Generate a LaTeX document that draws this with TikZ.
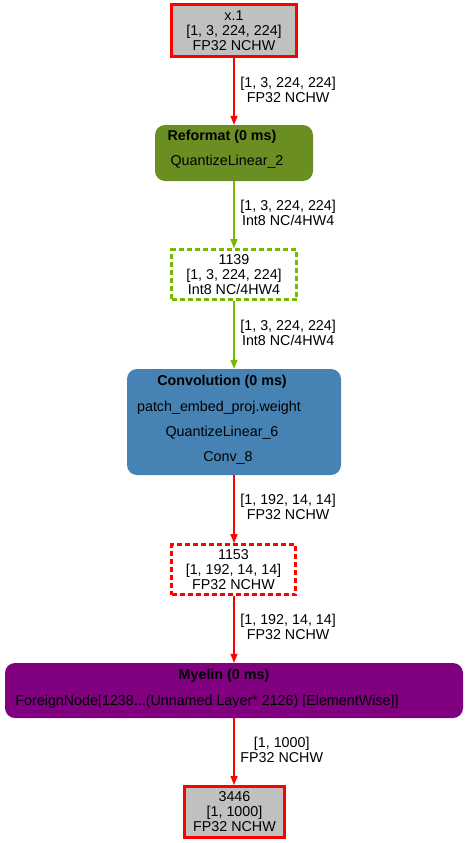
\documentclass[tikz,border=0pt]{standalone}
\usepackage{fontspec}
\setmainfont{Liberation Sans}
\usetikzlibrary{arrows.meta,positioning}
\definecolor{tensorgray}{HTML}{C0C0C0}
\definecolor{reformatgreen}{HTML}{6B8E23}
\definecolor{convblue}{HTML}{4682B4}
\definecolor{myelinpurple}{HTML}{800080}
\definecolor{intgreen}{HTML}{76B900}
\tikzset{
  iotensor/.style={draw=red, line width=3pt, fill=tensorgray, align=center, inner sep=0pt},
  midtensor/.style={line width=2.6pt, dash pattern=on 5pt off 3pt, fill=white, align=center, inner sep=0pt},
  layerbox/.style={rounded corners=10pt, inner sep=0pt},
  fpedge/.style={draw=red, line width=1.2pt, -{Triangle[length=9pt,width=7pt]}},
  intedge/.style={draw=intgreen, line width=1.2pt, -{Triangle[length=9pt,width=7pt]}},
  shapelbl/.style={midway, anchor=west, xshift=2.5pt, yshift=2pt, align=center}
}
\begin{document}
\begin{tikzpicture}[x=1pt, y=-1pt, font=\fontsize{14.3}{15}\selectfont]
  \useasboundingbox (0,0) rectangle (467,843);
  % tensors
  \node[iotensor, minimum width=125pt, minimum height=52pt] (x1) at (234,30.5) {x.1\\{}[1, 3, 224, 224]\\FP32 NCHW};
  \node[midtensor, draw=intgreen, minimum width=125pt, minimum height=50pt] (t1139) at (234,274.5) {1139\\{}[1, 3, 224, 224]\\Int8 NC/4HW4};
  \node[midtensor, draw=red, minimum width=124pt, minimum height=50pt] (t1153) at (233.5,569.5) {1153\\{}[1, 192, 14, 14]\\FP32 NCHW};
  \node[iotensor, minimum width=100pt, minimum height=51pt] (t3446) at (234.5,812) {3446\\{}[1, 1000]\\FP32 NCHW};
  % layers
  \node[layerbox, fill=reformatgreen, minimum width=158pt, minimum height=56pt] (reformat) at (234,153) {};
  \node[font=\fontsize{14.3}{15}\bfseries] at (222,137) {Reformat (0 ms)};
  \node at (227,162) {QuantizeLinear\_2};
  \node[layerbox, fill=convblue, minimum width=214pt, minimum height=106pt] (conv) at (234,422) {};
  \node[font=\fontsize{14.3}{15}\bfseries] at (222,382) {Convolution (0 ms)};
  \node at (219,408) {patch\_embed\_proj.weight};
  \node at (222,433) {QuantizeLinear\_6};
  \node at (228,458) {Conv\_8};
  \node[layerbox, fill=myelinpurple, minimum width=458pt, minimum height=55pt] (myelin) at (234,690.5) {};
  \node[font=\fontsize{14.3}{15}\bfseries] at (224,676) {Myelin (0 ms)};
  \node at (207,702) {ForeignNode[1238...(Unnamed Layer* 2126) [ElementWise]]};
  % edges
  \draw[fpedge] (x1.south -| reformat.north) -- node[shapelbl] {[1, 3, 224, 224]\\FP32 NCHW} (reformat.north);
  \draw[intedge] (reformat.south) -- node[shapelbl] {[1, 3, 224, 224]\\Int8 NC/4HW4} (t1139.north -| reformat.south);
  \draw[intedge] (t1139.south -| conv.north) -- node[shapelbl] {[1, 3, 224, 224]\\Int8 NC/4HW4} (conv.north);
  \draw[fpedge] (conv.south) -- node[shapelbl] {[1, 192, 14, 14]\\FP32 NCHW} (t1153.north -| conv.south);
  \draw[fpedge] (t1153.south -| myelin.north) -- node[shapelbl] {[1, 192, 14, 14]\\FP32 NCHW} (myelin.north);
  \draw[fpedge] (myelin.south) -- node[shapelbl] {[1, 1000]\\FP32 NCHW} (t3446.north -| myelin.south);
\end{tikzpicture}
\end{document}
